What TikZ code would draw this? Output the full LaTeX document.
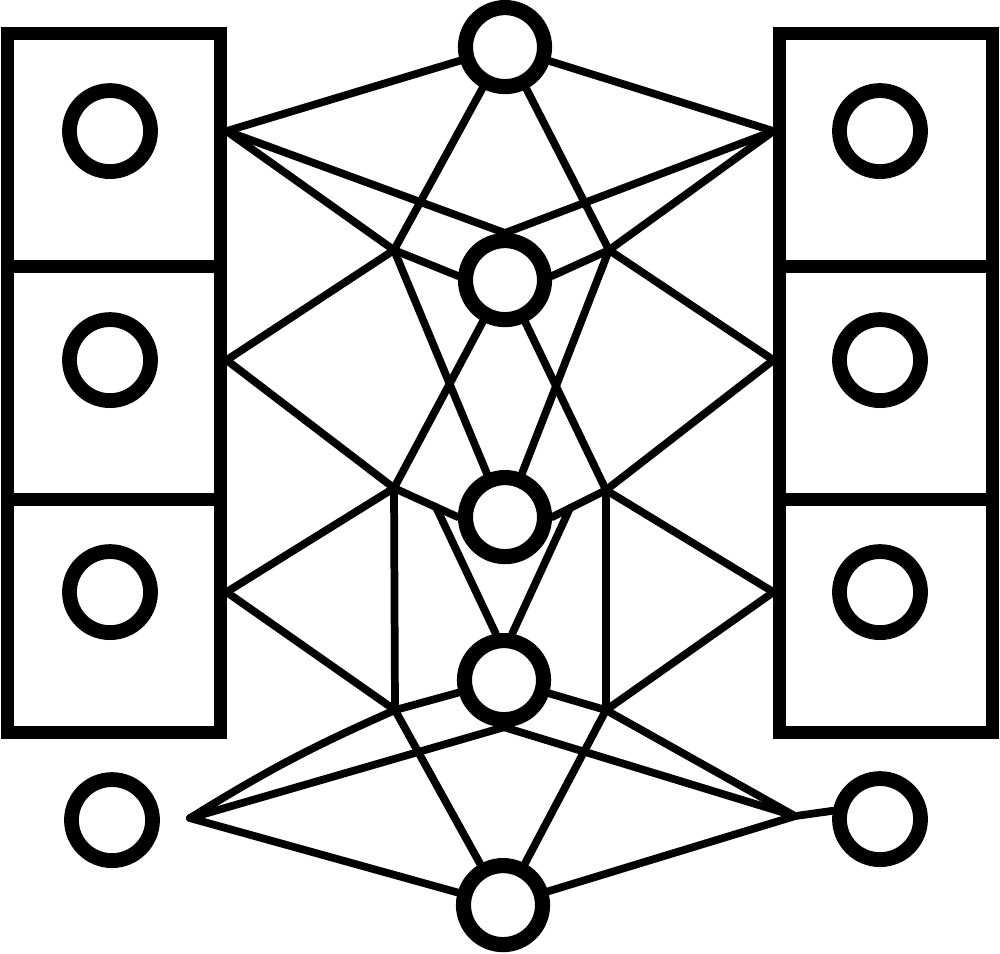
\documentclass[tikz,border=0pt]{standalone}
\begin{document}
\begin{tikzpicture} [
      x=0.01cm, y=-0.01cm,
      cell/.style={draw, rectangle, line width=3.7pt, minimum width=2.12cm, minimum height=2.33cm},
      unit/.style={draw, circle, line width=4.2pt, minimum size=0.81cm},
      hidden/.style={draw, circle, line width=4.3pt, minimum size=0.79cm},
      link/.style={line width=2.2pt, line cap=round}
   ]
    \path[fill=white] (0,0) rectangle (1000,953);

    % left column
    \node[cell] (lCell1) at (114,150) {};
    \node[cell, below of=lCell1, node distance=2.33cm] (lCell2) {};
    \node[cell, below of=lCell2, node distance=2.33cm] (lCell3) {};
    \node[unit] (lUnit1) at (110,131) {};
    \node[unit] (lUnit2) at (110,360) {};
    \node[unit] (lUnit3) at (110,592) {};
    \node[unit] (lUnit4) at (112,820) {};

    % right column
    \node[cell] (rCell1) at (886,150) {};
    \node[cell, below of=rCell1, node distance=2.33cm] (rCell2) {};
    \node[cell, below of=rCell2, node distance=2.33cm] (rCell3) {};
    \node[unit] (rUnit1) at (880,131) {};
    \node[unit] (rUnit2) at (880,360) {};
    \node[unit] (rUnit3) at (880,592) {};
    \node[unit] (rUnit4) at (880,819) {};

    % middle column
    \node[hidden] (h1) at (505,47) {};
    \node[hidden] (h2) at (505,280) {};
    \node[hidden] (h3) at (505,517) {};
    \node[hidden] (h4) at (504,680) {};
    \node[hidden] (h5) at (503,905) {};

    \coordinate (lIn1) at (lCell1.east |- lUnit1);
    \coordinate (lIn2) at (lCell2.east |- lUnit2);
    \coordinate (lIn3) at (lCell3.east |- lUnit3);
    \coordinate (rIn1) at (rCell1.west |- rUnit1);
    \coordinate (rIn2) at (rCell2.west |- rUnit2);
    \coordinate (rIn3) at (rCell3.west |- rUnit3);
    \coordinate (jL1) at (394,250);
    \coordinate (jL2) at (394,488);
    \coordinate (jL3) at (395,710);
    \coordinate (jR1) at (609,250);
    \coordinate (jR2) at (606,490);
    \coordinate (jR3) at (606,710);
    \coordinate (pL) at (190,818);
    \coordinate (pR) at (795,816);
    \coordinate (vL) at (436,507);
    \coordinate (vR) at (570,508);

    % left half
    \draw[link] (lIn1) -- (h1);
    \draw[link] (lIn1) -- (h2.north);
    \draw[link] (lIn1) -- (jL1);
    \draw[link] (h1) -- (jL1);
    \draw[link] (jL1) -- (h2.175);
    \draw[link] (jL1) -- (lIn2);
    \draw[link] (jL1) -- (h3);
    \draw[link] (h2) -- (jL2);
    \draw[link] (lIn2) -- (jL2);
    \draw[link] (jL2) -- (lIn3);
    \draw[link] (jL2) -- (h3.west);
    \draw[link] (jL2) -- (jL3);
    \draw[link] (vL) -- (h4.100);
    \draw[link] (lIn3) -- (jL3);
    \draw[link] (jL3) -- (h4);
    \draw[link] (jL3) -- (h5);
    \draw[link] (pL) to[bend left=4] (jL3);
    \draw[link] (pL) -- (h4.south);
    \draw[link] (pL) -- (h5);

    % right half
    \draw[link] (rIn1) -- (h1);
    \draw[link] (rIn1) -- (h2.north);
    \draw[link] (rIn1) -- (jR1);
    \draw[link] (h1) -- (jR1);
    \draw[link] (jR1) -- (h2.5);
    \draw[link] (jR1) -- (rIn2);
    \draw[link] (jR1) -- (h3);
    \draw[link] (h2) -- (jR2);
    \draw[link] (rIn2) -- (jR2);
    \draw[link] (jR2) -- (rIn3);
    \draw[link] (jR2) -- (h3.east);
    \draw[link] (jR2) -- (jR3);
    \draw[link] (vR) -- (h4.80);
    \draw[link] (rIn3) -- (jR3);
    \draw[link] (jR3) -- (h4);
    \draw[link] (jR3) -- (h5);
    \draw[link] (pR) -- (jR3);
    \draw[link] (pR) -- (h4.south);
    \draw[link] (pR) -- (h5);
    \draw[link] (pR) -- (rUnit4.170);

    \useasboundingbox (0,0) rectangle (1000,953);
  \end{tikzpicture}
\end{document}
